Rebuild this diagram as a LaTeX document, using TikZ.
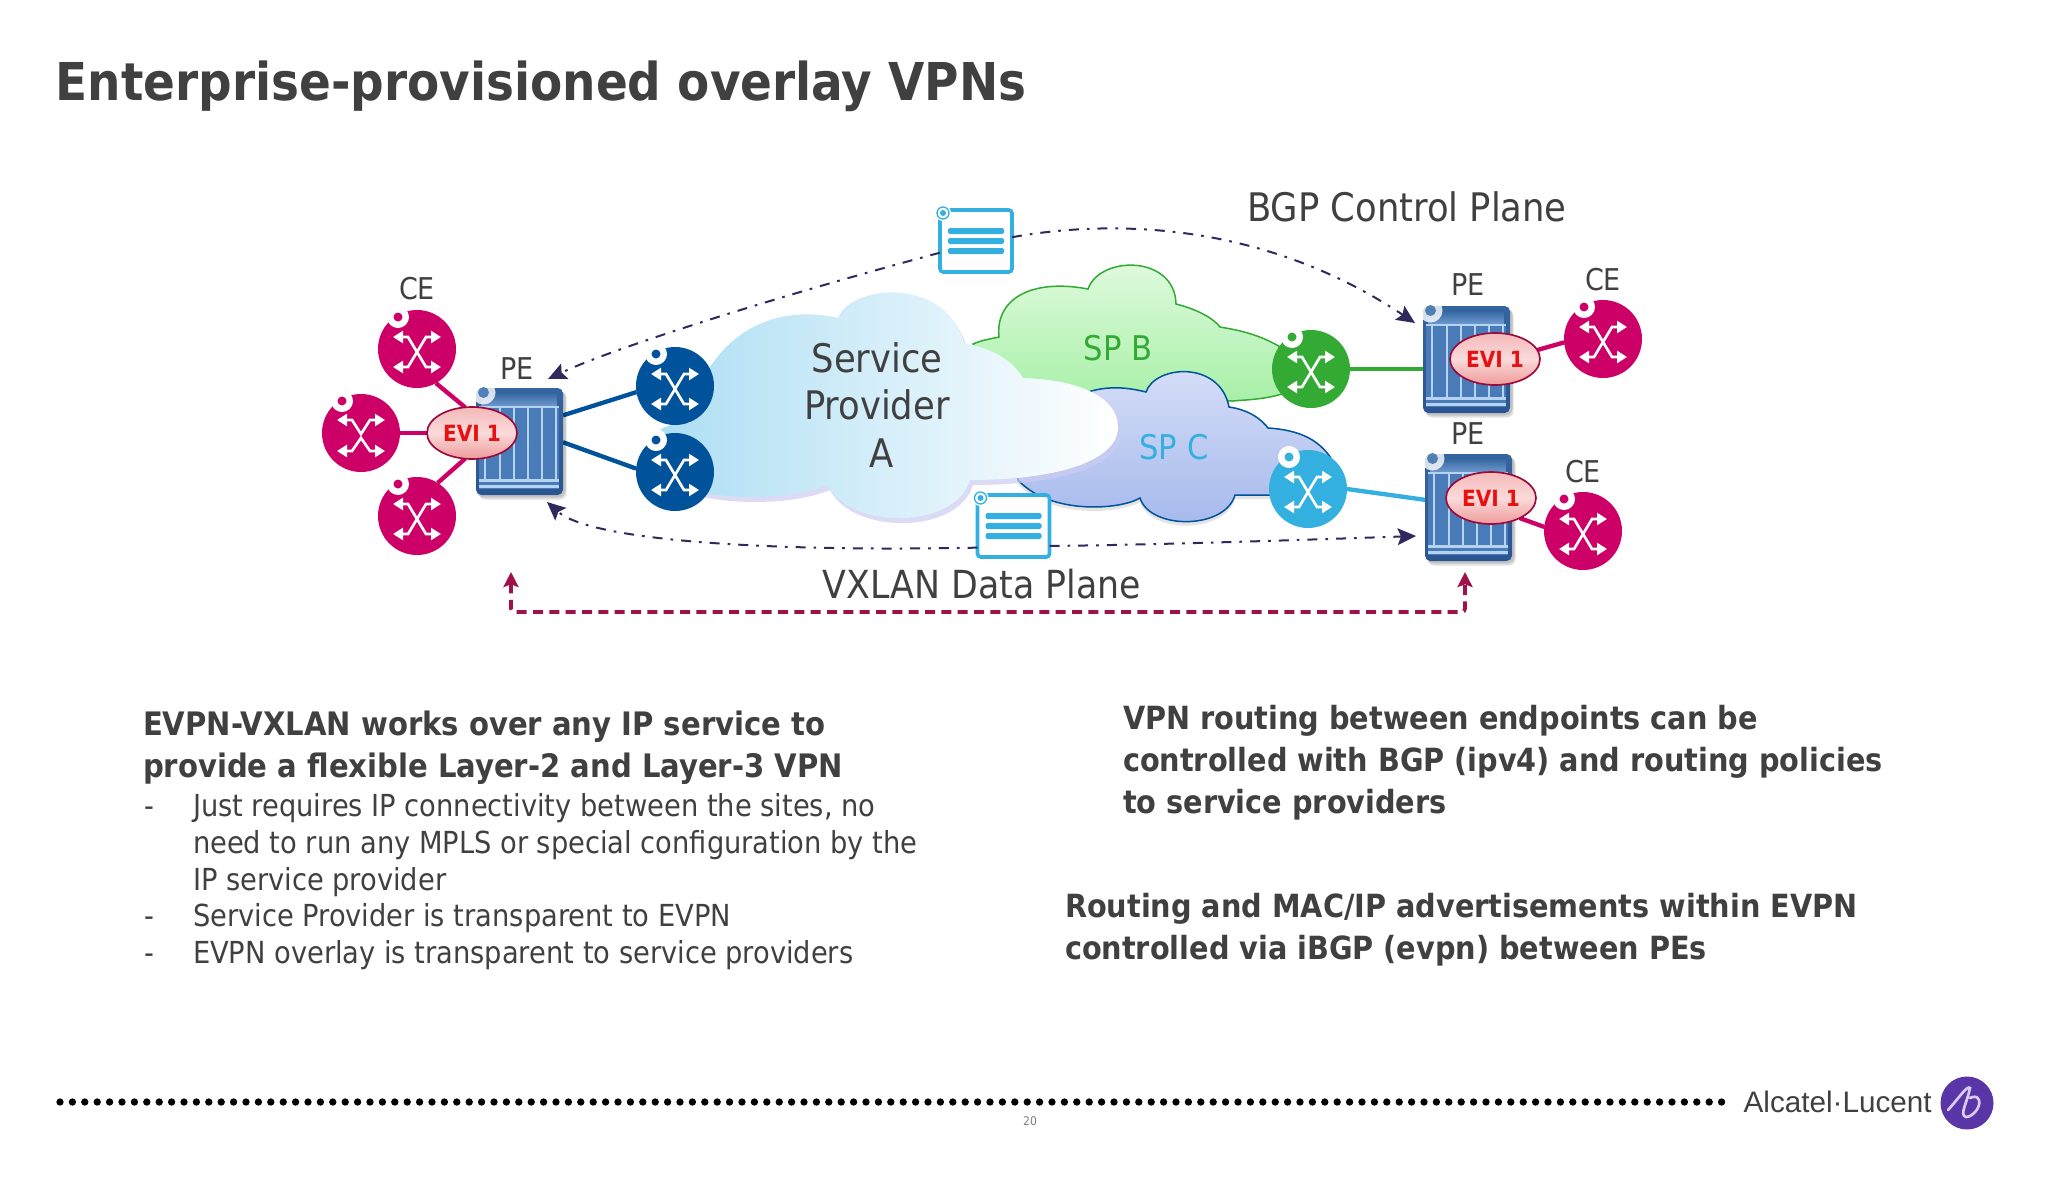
\documentclass[tikz,border=0pt]{standalone}
\usepackage{fontspec}
\setmainfont{DejaVu Sans Condensed}
\newfontfamily\logofont{Liberation Sans}
\usetikzlibrary{arrows.meta,shapes.geometric}
\definecolor{magen}{HTML}{CC0066}
\definecolor{blu}{HTML}{00529B}
\definecolor{grn}{HTML}{33AA33}
\definecolor{cyn}{HTML}{33B0E0}
\definecolor{navy}{HTML}{2E2A5E}
\definecolor{wine}{HTML}{A0114A}
\definecolor{ink}{HTML}{404040}
\definecolor{PEa}{HTML}{35659F}
\definecolor{PEb}{HTML}{2A5590}
\definecolor{PEc}{HTML}{4A7BB9}
\definecolor{PEt}{HTML}{6F9BD0}
\definecolor{PEd}{HTML}{4F7FB5}
\definecolor{PEl}{HTML}{B5D2F0}
\definecolor{evib}{HTML}{9A0A3A}
\definecolor{evit}{HTML}{F4B8B8}
\definecolor{evim}{HTML}{FBDADA}
\definecolor{evil}{HTML}{EE9A9A}
\definecolor{evir}{HTML}{E81010}
\definecolor{SPBa}{HTML}{E2FBE0}
\definecolor{SPBb}{HTML}{A8F0A8}
\definecolor{SPCa}{HTML}{D8DFF8}
\definecolor{SPCb}{HTML}{A4B8EC}
\definecolor{SPAs}{HTML}{CCCCF2}
\definecolor{SPAl}{HTML}{A8DCF3}
\definecolor{logoc}{HTML}{5A35A8}
\definecolor{logol}{HTML}{D9CCF0}
\pgfdeclarelayer{bg}
\pgfsetlayers{bg,main}
\tikzset{
 x=.3pt,y=-.3pt,
 swbody/.style={circle,minimum size=23.4pt,inner sep=0pt,outer sep=0pt,draw=none},
 swarrow/.style={white,line width=.8pt,{Triangle[length=3pt,width=3.6pt]}-{Triangle[length=3pt,width=3.6pt]}},
 peshape/.style={rectangle,minimum width=26.1pt,minimum height=32.1pt,inner sep=0pt,outer sep=0pt,rounded corners=1.6pt,top color=PEa,bottom color=PEb},
 evi/.style={ellipse,minimum width=27pt,minimum height=15.6pt,inner sep=0pt,outer sep=0pt,draw=evib,line width=.5pt,top color=evit,bottom color=evil,middle color=evim,text=evir,font=\fontsize{6.7}{7}\selectfont\bfseries},
 link/.style={line width=1.3pt},
 doc/.style={rectangle,minimum width=21.6pt,minimum height=18.6pt,inner sep=0pt,outer sep=0pt,draw=cyn,fill=white,line width=1.1pt,rounded corners=1pt},
 bar/.style={fill=cyn,rounded corners=.5pt},
 ctl/.style={navy,line width=.6pt,dash pattern=on 3pt off 2.4pt on .8pt off 2.4pt,-{Stealth[length=5.5pt,width=5pt,inset=1pt]}},
 vx/.style={wine,line width=1.1pt,dash pattern=on 3pt off 1.9pt,{Stealth[length=4.5pt,width=4.5pt,inset=.8pt]}-{Stealth[length=4.5pt,width=4.5pt,inset=.8pt]},rounded corners=1pt},
 lab/.style={text=ink,inner sep=0pt,outer sep=0pt,font=\fontsize{9}{10}\selectfont},
 big/.style={text=ink,inner sep=0pt,outer sep=0pt,font=\fontsize{11.8}{13}\selectfont},
 hd/.style={text=ink,inner sep=0pt,outer sep=0pt,anchor=base west,font=\fontsize{9.58}{11}\selectfont\bfseries},
 hdl/.style={hd,font=\fontsize{9.7}{11}\selectfont\bfseries},
 bd/.style={text=ink,inner sep=0pt,outer sep=0pt,anchor=base west,font=\fontsize{9.1}{11}\selectfont},
}
\newcommand\crossicon{%
 \draw[swarrow] (-24,-12) -- (-9,-12) -- (9,18) -- (24,18);
 \draw[swarrow] (24,-12) -- (9,-12) -- (-9,18) -- (-24,18);}
\newcommand\veeicon{%
 \draw[swarrow] (-24,-13) -- (-9,-13) -- (0,1) -- (9,-13) -- (24,-13);
 \draw[swarrow] (-24,18) -- (-9,18) -- (0,5) -- (9,18) -- (24,18);}
\newcommand\swnode[5]{%
 \node[swbody,fill=#5] (#1) at (#2,#3) {};
 \begin{scope}[shift={(#1)}]
 \fill[white] (-19,-32) circle[radius=11];
 \fill[#5] (-19,-32) circle[radius=4.5];
 #4
 \end{scope}}
\newcommand\pebox[3]{%
 \fill[black,opacity=.12,rounded corners=2pt] (#2-41,#3-50) rectangle (#2+47,#3+58);
 \fill[black,opacity=.12,rounded corners=2pt] (#2-42,#3-51) rectangle (#2+46,#3+56);
 \node[peshape] (#1) at (#2,#3) {};
 \begin{scope}[shift={(#1)}]
 \shade[top color=PEa,bottom color=PEt] (-38,-49) rectangle (37,-35);
 \fill[PEc] (-41,-35) rectangle (39,39);
 \foreach \sx in {-35,-20,-6,8,22,36} \draw[PEl,line width=.6pt] (\sx,-35) -- (\sx,39);
 \draw[PEl,line width=.6pt] (-41,-35) -- (39,-35);
 \fill[PEc] (-41,39) rectangle (39,47);
 \draw[PEl,line width=.7pt] (-41,39) -- (39,39);
 \draw[PEl,line width=.7pt] (-41,45) -- (39,45);
 \fill[white,opacity=.8] (-36,-49) circle[radius=12];
 \fill[PEd] (-36,-49) circle[radius=5.5];
 \end{scope}}
\newcommand\docicon[3]{%
 \node[doc] (#1) at (#2,#3) {};
 \begin{scope}[shift={(#1)}]
 \foreach \sy in {-10,0,10} \fill[bar] (-28,\sy-3) rectangle (28,\sy+3);
 \fill[white] (-33,-28) circle[radius=8];
 \draw[cyn,line width=.4pt] (-33,-28) circle[radius=6];
 \fill[cyn] (-33,-28) circle[radius=3];
 \end{scope}}
\begin{document}
\begin{tikzpicture}
\useasboundingbox (0,0) rectangle (2048,1182);

\begin{pgfonlayer}{bg}
\fill[white] (0,0) rectangle (2048,1182);
% SP B
\draw[grn,line width=.45pt,top color=SPBa,bottom color=SPBb]
 (973,344) .. controls (982,340) and (990,339) .. (999,337)
 .. controls (995,300) and (1030,278) .. (1088,289)
 .. controls (1100,255) and (1175,255) .. (1176,304)
 .. controls (1200,310) and (1215,320) .. (1220,327)
 .. controls (1250,332) and (1270,338) .. (1300,360)
 -- (1285,393) .. controls (1265,400) and (1240,400) .. (1233,401)
 -- (1090,400) -- (1000,400) -- cycle;
% SP C
\path[fill=black!35,opacity=.3]
 (1018,484) .. controls (1050,519) and (1120,514) .. (1140,502)
 .. controls (1150,534) and (1225,534) .. (1235,499) -- (1290,499) -- (1290,470) -- (1018,470) -- cycle;
\draw[blu,line width=.45pt,top color=SPCa,bottom color=SPCb]
 (1010,440) -- (1088,392)
 .. controls (1110,385) and (1130,388) .. (1146,392)
 .. controls (1155,365) and (1220,360) .. (1229,407)
 .. controls (1250,410) and (1262,420) .. (1268,428)
 .. controls (1300,430) and (1322,440) .. (1335,465)
 -- (1290,495) -- (1235,495)
 .. controls (1225,530) and (1150,530) .. (1140,498)
 .. controls (1120,510) and (1050,515) .. (1018,480) -- cycle;
% Service Provider A
\path[fill=SPAs,opacity=.7,shift={(3,5)}]
 (690,423) .. controls (700,350) and (760,300) .. (838,318)
 .. controls (850,285) and (945,275) .. (964,343)
 .. controls (1000,350) and (1015,365) .. (1023,378)
 .. controls (1085,380) and (1118,400) .. (1118,427)
 .. controls (1118,460) and (1060,480) .. (970,480)
 .. controls (955,530) and (850,530) .. (827,485)
 .. controls (790,500) and (730,500) .. (690,490)
 .. controls (640,490) and (625,422) .. (690,423) -- cycle;
\path[left color=SPAl,right color=white]
 (690,423) .. controls (700,350) and (760,300) .. (838,318)
 .. controls (850,285) and (945,275) .. (964,343)
 .. controls (1000,350) and (1015,365) .. (1023,378)
 .. controls (1085,380) and (1118,400) .. (1118,427)
 .. controls (1118,460) and (1060,480) .. (970,480)
 .. controls (955,530) and (850,530) .. (827,485)
 .. controls (790,500) and (730,500) .. (690,490)
 .. controls (640,490) and (625,422) .. (690,423) -- cycle;
\end{pgfonlayer}

% switches
\swnode{cea}{417}{349}{\crossicon}{magen}
\swnode{ceb}{361}{433}{\veeicon}{magen}
\swnode{cec}{417}{516}{\crossicon}{magen}
\swnode{bla}{675}{386}{\crossicon}{blu}
\swnode{blb}{675}{472}{\crossicon}{blu}
\swnode{gsw}{1311}{369}{\crossicon}{grn}
\swnode{csw}{1308}{489}{\crossicon}{cyn}
\swnode{ced}{1603}{339}{\crossicon}{magen}
\swnode{cee}{1583}{531}{\crossicon}{magen}

% PE routers
\pebox{pea}{519.5}{441.5}
\pebox{peb}{1466.5}{359.5}
\pebox{pec}{1468.5}{507.5}

% EVI ellipses
\node[evi] (evia) at (472,433) {EVI 1};
\node[evi] (evib) at (1495,359) {EVI 1};
\node[evi] (evic) at (1491,498) {EVI 1};

% links
\begin{pgfonlayer}{bg}
\draw[link,magen] (cea.-61) -- (evia.105);
\draw[link,magen] (ceb.east) -- (evia.west);
\draw[link,magen] (cec.58) -- (evia.255);
\draw[link,blu] (bla.189) -- (pea.31);
\draw[link,blu] (blb.175) -- (pea.-1);
\draw[link,grn] (gsw.east) -- (gsw.east -| peb.west);
\draw[link,cyn] (csw.east) -- (pec.170);
\draw[link,magen] (ced.185) -- (evib.12);
\draw[link,magen] (cee.174) -- (evic.-35);
\end{pgfonlayer}

% route documents
\docicon{doca}{976}{241}
\docicon{docb}{1013.5}{526}

% control plane curves
\coordinate (ta) at (548,379);
\coordinate (tb) at (1415,323);
\coordinate (tc) at (547,502);
\coordinate (td) at (1416,536);
\draw[ctl] (doca.198) .. controls (800,290) and (620,345) .. (ta);
\draw[ctl] (doca.6) .. controls (1090,223) and (1250,213) .. (tb);
\draw[ctl] (docb.211) .. controls (760,552) and (590,540) .. (tc);
\draw[ctl] (docb.-29) .. controls (1150,545) and (1300,540) .. (td);

% data plane
\coordinate (va) at (511,572);
\coordinate (vb) at (1465,572);
\draw[vx] (va) -- ++(0,40) -| (vb);

% labels
\node[lab] (lce1) at (417,289) {CE};
\node[lab] (lpe1) at (517,369) {PE};
\node[lab] (lpe2) at (1468,285) {PE};
\node[lab] (lce2) at (1603,280) {CE};
\node[lab] (lpe3) at (1468,434) {PE};
\node[lab] (lce3) at (1583,472) {CE};
\node[big] (lbgp) at (1407,207) {BGP Control Plane};
\node[big,font=\fontsize{11.6}{13}\selectfont] (lvx) at (982,584) {VXLAN Data Plane};
\node[big] (lsa) at (877,358) {Service};
\node[big] (lsb) at (877,405) {Provider};
\node[big] (lsc) at (882,453) {A};
\node[big,text=grn,font=\fontsize{10.2}{12}\selectfont] (lspb) at (1118,348) {SP B};
\node[big,text=cyn,font=\fontsize{10.2}{12}\selectfont] (lspc) at (1174,447) {SP C};

% title
\node[text=ink,inner sep=0pt,anchor=base west,font=\fontsize{15.65}{18}\selectfont\bfseries] (title) at (55,100) {Enterprise-provisioned overlay VPNs};

% left text
\node[hdl] (h1) at (143,735) {EVPN-VXLAN works over any IP service to};
\node[hdl] (h2) at (143,777) {provide a flexible Layer-2 and Layer-3 VPN};
\node[bd] (d1) at (144,816) {-};
\node[bd] (b1) at (193,816) {Just requires IP connectivity between the sites, no};
\node[bd] (b2) at (193,853) {need to run any MPLS or special configuration by the};
\node[bd] (b3) at (193,890) {IP service provider};
\node[bd] (d2) at (144,926) {-};
\node[bd] (b4) at (193,926) {Service Provider is transparent to EVPN};
\node[bd] (d3) at (144,963) {-};
\node[bd] (b5) at (193,963) {EVPN overlay is transparent to service providers};

% right text
\node[hd] (r1) at (1123,729) {VPN routing between endpoints can be};
\node[hd] (r2) at (1123,771) {controlled with BGP (ipv4) and routing policies};
\node[hd] (r3) at (1123,813) {to service providers};
\node[hd] (r4) at (1065,917) {Routing and MAC/IP advertisements within EVPN};
\node[hd] (r5) at (1065,959) {controlled via iBGP (evpn) between PEs};

% footer
\draw[black,line width=2.2pt,line cap=round,dash pattern=on 0pt off 3.72pt] (60,1102) -- (1731,1102);
\node[text=black!50,inner sep=0pt,font=\fontsize{3.6}{4}\selectfont] (pg) at (1030,1121) {20};
\node[text=ink,inner sep=0pt,anchor=west,font=\logofont\fontsize{8.9}{10}\selectfont] (brand) at (1743,1102) {Alcatel·Lucent};
\node[circle,fill=logoc,minimum size=15.9pt,inner sep=0pt] (logo) at (1967,1103) {};
\begin{scope}[shift={(logo)}]
\draw[logol,line width=.8pt,line cap=round] (-19,7) .. controls (-8,-5) and (0,-18) .. (3,-15) .. controls (0,0) and (-8,12) .. (-1,14) .. controls (5,14) and (14,5) .. (12,-3) .. controls (10,-8) and (5,-6) .. (3,-5);
\end{scope}
\end{tikzpicture}
\end{document}
